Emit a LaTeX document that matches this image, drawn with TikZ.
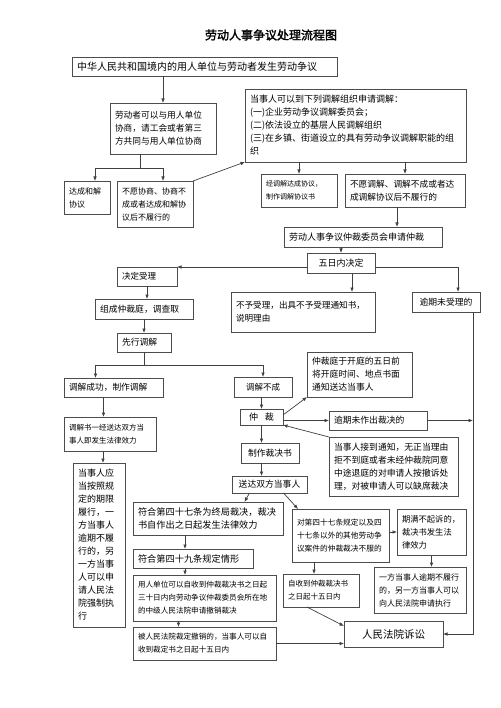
\documentclass[tikz,border=0pt]{standalone}
\usepackage{fontspec}
\setmainfont{Noto Sans CJK SC}[AutoFakeBold=2]
\usetikzlibrary{arrows.meta}
\newcommand{\fsz}[1]{\fontsize{#1}{13}\selectfont}

\begin{document}
\begin{tikzpicture}[x=1pt, y=-1pt, line width=0.7pt]
\tikzset{ >={Latex[length=4.5pt,width=3.6pt]},
  flow/.style={draw=black!70, anchor=north west, inner xsep=5pt, inner ysep=1pt, outer sep=0pt, align=left},
  flowc/.style={flow, align=center},
  wire/.style={draw=black!75},
  link/.style={wire, ->},
}

\useasboundingbox (0,0) rectangle (500,708);

%\draw [lightgray, dashed](0,0) grid[step=50] (500,708);

\node [font=\fsz{12}\bfseries] (title) at (271,35) {劳动人事争议处理流程图};

% 协商与调解
\node [flow, text width=255pt, minimum height=19pt, font=\fsz{10}] (dispute) at (72,57) {中华人民共和国境内的用人单位与劳动者发生劳动争议};
\node [flow, text width=96pt, minimum height=51pt, font=\fsz{8.7}] (consult) at (110,103) {劳动者可以与用人单位\\协商，请工会或者第三\\方共同与用人单位协商};
\node [flow, text width=36pt, minimum height=33pt, font=\fsz{8}] (settle) at (64,181) {达成和解\\协议};
\node [flow, text width=66pt, minimum height=46pt, font=\fsz{8}] (nofulfil) at (117,181) {不愿协商、协商不\\成或者达成和解协\\议后不履行的};
\node [flow, text width=211pt, minimum height=73pt, font=\fsz{9}] (mediate) at (245,89) {当事人可以到下列调解组织申请调解：\\(一)企业劳动争议调解委员会；\\(二)依法设立的基层人民调解组织\\(三)在乡镇、街道设立的具有劳动争议调解职能的组\\织};
\node [flow, text width=66pt, minimum height=33pt, font=\fsz{7}] (medok) at (261,174) {经调解达成协议，\\制作调解协议书};
\node [flow, text width=110pt, minimum height=33pt, font=\fsz{8.7}] (mednot) at (345,174) {不愿调解、调解不成或者达\\成调解协议后不履行的};

% 申请仲裁
\node [flow, text width=148pt, minimum height=20pt, font=\fsz{9}] (apply) at (284,227) {劳动人事争议仲裁委员会申请仲裁};
\node [flowc, text width=58pt, minimum height=20pt, font=\fsz{9}] (fivedays) at (307,253) {五日内决定};
\node [flow, text width=50pt, minimum height=19pt, font=\fsz{8.5}] (accept) at (117,267) {决定受理};
\node [flow, text width=134pt, minimum height=40pt, font=\fsz{8.6}] (reject) at (231,292) {不予受理，出具不予受理通知书，\\说明理由};
\node [flowc, text width=58pt, minimum height=20pt, font=\fsz{8.8}] (overdue) at (412,292) {逾期未受理的};
\node [flow, text width=88pt, minimum height=20pt, font=\fsz{8.8}] (tribunal) at (95,299) {组成仲裁庭，调查取};
\node [flow, text width=44pt, minimum height=19pt, font=\fsz{8.8}] (premed) at (117,333) {先行调解};
\node [flow, text width=95pt, minimum height=45pt, font=\fsz{8.8}] (notice) at (307,352) {仲裁庭于开庭的五日前\\将开庭时间、地点书面\\通知送达当事人};

% 调解成功
\node [flow, text width=89pt, minimum height=19pt, font=\fsz{8.7}] (medsucc) at (64,378) {调解成功，制作调解};
\node [flow, text width=82pt, minimum height=34pt, font=\fsz{7.5}] (medbook) at (64,417) {调解书一经送达双方当\\事人即发生法律效力};
\node [flow, text width=42pt, minimum height=164pt, font=\fsz{9}] (enforce) at (73,463) {当事人应\\当按照规\\定的期限\\履行，一\\方当事人\\逾期不履\\行的，另\\一方当事\\人可以申\\请人民法\\院强制执\\行};

% 仲裁
\node [flowc, text width=48pt, minimum height=20pt, font=\fsz{8.5}] (medfail) at (234,377) {调解不成};
\node [flowc, text width=33pt, minimum height=16pt, font=\fsz{9}] (arb) at (240,409) {仲\hspace{7pt}裁};
\node [flow, text width=88pt, minimum height=19pt, font=\fsz{8.8}] (latearb) at (329,411) {逾期未作出裁决的};
\node [flow, text width=119pt, minimum height=59pt, font=\fsz{8.8}] (absent) at (329,437) {当事人接到通知，无正当理由\\拒不到庭或者未经仲裁院同意\\中途退庭的对申请人按撤诉处\\理，对被申请人可以缺席裁决};
\node [flowc, text width=48pt, minimum height=20pt, font=\fsz{8.8}] (award) at (241,443) {制作裁决书};
\node [flowc, text width=65pt, minimum height=17pt, font=\fsz{8.8}] (serve) at (232,476) {送达双方当事人};

% 裁决之后
\node [flow, text width=140pt, minimum height=33pt, font=\fsz{9.2}] (final47) at (133,502) {符合第四十七条为终局裁决，裁决\\书自作出之日起发生法律效力};
\node [flow, text width=110pt, minimum height=19pt, font=\fsz{9.2}] (case49) at (133,549) {符合第四十九条规定情形};
\node [flow, text width=133pt, minimum height=46pt, font=\fsz{7.6}] (revoke) at (133,575) {用人单位可以自收到仲裁裁决书之日起\\三十日内向劳动争议仲裁委员会所在地\\的中级人民法院申请撤销裁决};
\node [flow, text width=133pt, minimum height=33pt, font=\fsz{7.6}] (revoked) at (133,627) {被人民法院裁定撤销的，当事人可以自\\收到裁定书之日起十五日内};
\node [flow, text width=87pt, minimum height=53pt, font=\fsz{7.7}] (other) at (292,509) {对第四十七条规定以及四\\十七条以外的其他劳动争\\议案件的仲裁裁决不服的};
\node [flow, text width=59pt, minimum height=46pt, font=\fsz{8.3}] (expire) at (397,509) {期满不起诉的，\\裁决书发生法\\律效力};
\node [flow, text width=82pt, minimum height=46pt, font=\fsz{8}] (execute) at (374,567) {一方当事人逾期不履行\\的，另一方当事人可以\\向人民法院申请执行};
\node [flow, text width=66pt, minimum height=33pt, font=\fsz{7.5}] (fifteen) at (283,574) {自收到仲裁裁决书\\之日起十五日内};
\node [flowc, text width=89pt, minimum height=26pt, font=\fsz{10.5}] (court) at (344,621) {人民法院诉讼};

% connectors
\draw [link] (consult.north |- dispute.south) -- (consult.north);
\draw [wire] ([xshift=-23pt]consult.south) -- ++(0,14) coordinate (fork1);
\draw [link] (fork1) -| ([xshift=8pt]settle.north);
\draw [link] (fork1) -| ([xshift=8pt]nofulfil.north);
\draw [link] (nofulfil.north east) -- (mediate.south west);
\draw [link] (medok.north |- mediate.south) -- (medok.north);
\draw [link] (mednot.north |- mediate.south) -- (mednot.north);
\draw [link] ([xshift=-8pt]mednot.south) -- ([xshift=-8pt]mednot.south |- apply.north);

\draw [link] (fivedays.north |- apply.south) -- (fivedays.north);
\draw [link] ([yshift=-4pt]fivedays.west) -- (accept.north east);
\draw [link] ([xshift=11pt]fivedays.south) -- ([xshift=11pt]fivedays.south |- reject.north);
\draw [link] ([yshift=-4pt]fivedays.east) -| ([xshift=12pt]overdue.north);

\draw [link] (accept.south) -- (accept.south |- tribunal.north);
\draw [link] (premed.north |- tribunal.south) -- (premed.north);
\draw [wire] (premed.south) -- ++(0,13) coordinate (fork2);
\draw [link] (fork2) -| ([xshift=-18pt]medsucc.north);
\draw [link] (fork2) -| (medfail.north);
\draw [link] ([xshift=-10pt]medsucc.south) -- ([xshift=-10pt]medsucc.south |- medbook.north);
\draw [link] ([xshift=-7pt]medbook.south) -- ([xshift=-7pt]medbook.south |- enforce.north);

\draw [link] (arb.north |- medfail.south) -- (arb.north);
\draw [link] ([yshift=2pt]arb.east) -- (notice.south west);
\draw [link] (latearb.west -| arb.east) -- (latearb.west);
\draw [link] ([xshift=27pt]overdue.south) coordinate (rail) |- (court.east);
\draw [link] (latearb.east) -- (latearb.east -| rail);
\draw [link] (absent.north west) -- (arb.south east);
\draw [link] (arb.south) -- (arb.south |- award.north);
\draw [link] (award.south -| arb.south) -- (serve.north -| arb.south);

\draw [link] ([xshift=-20pt]serve.south) -- ([xshift=-25pt]serve.south |- final47.north);
\draw [link] ([xshift=14pt]serve.south) -- ([xshift=6pt]other.north west);
\draw [link] ([xshift=-8pt]case49.north |- final47.south) -- ([xshift=-8pt]case49.north);
\draw [link] ([xshift=-8pt]case49.south) -- ([xshift=-8pt]case49.south |- revoke.north);
\draw [link] ([xshift=-26pt]revoke.south) -- ([xshift=-26pt]revoke.south |- revoked.north);
\draw [link] (revoked.east) -- (revoked.east -| court.west);
\draw [link] (expire.west -| other.east) -- (expire.west);
\draw [link] (expire.south) -- (expire.south |- execute.north);
\draw [link] ([xshift=-7pt]fifteen.north |- other.south) -- ([xshift=-7pt]fifteen.north);
\draw [link] ([xshift=-14pt]fifteen.south) -- ([yshift=-5pt]court.north west);

\end{tikzpicture}
\end{document}
